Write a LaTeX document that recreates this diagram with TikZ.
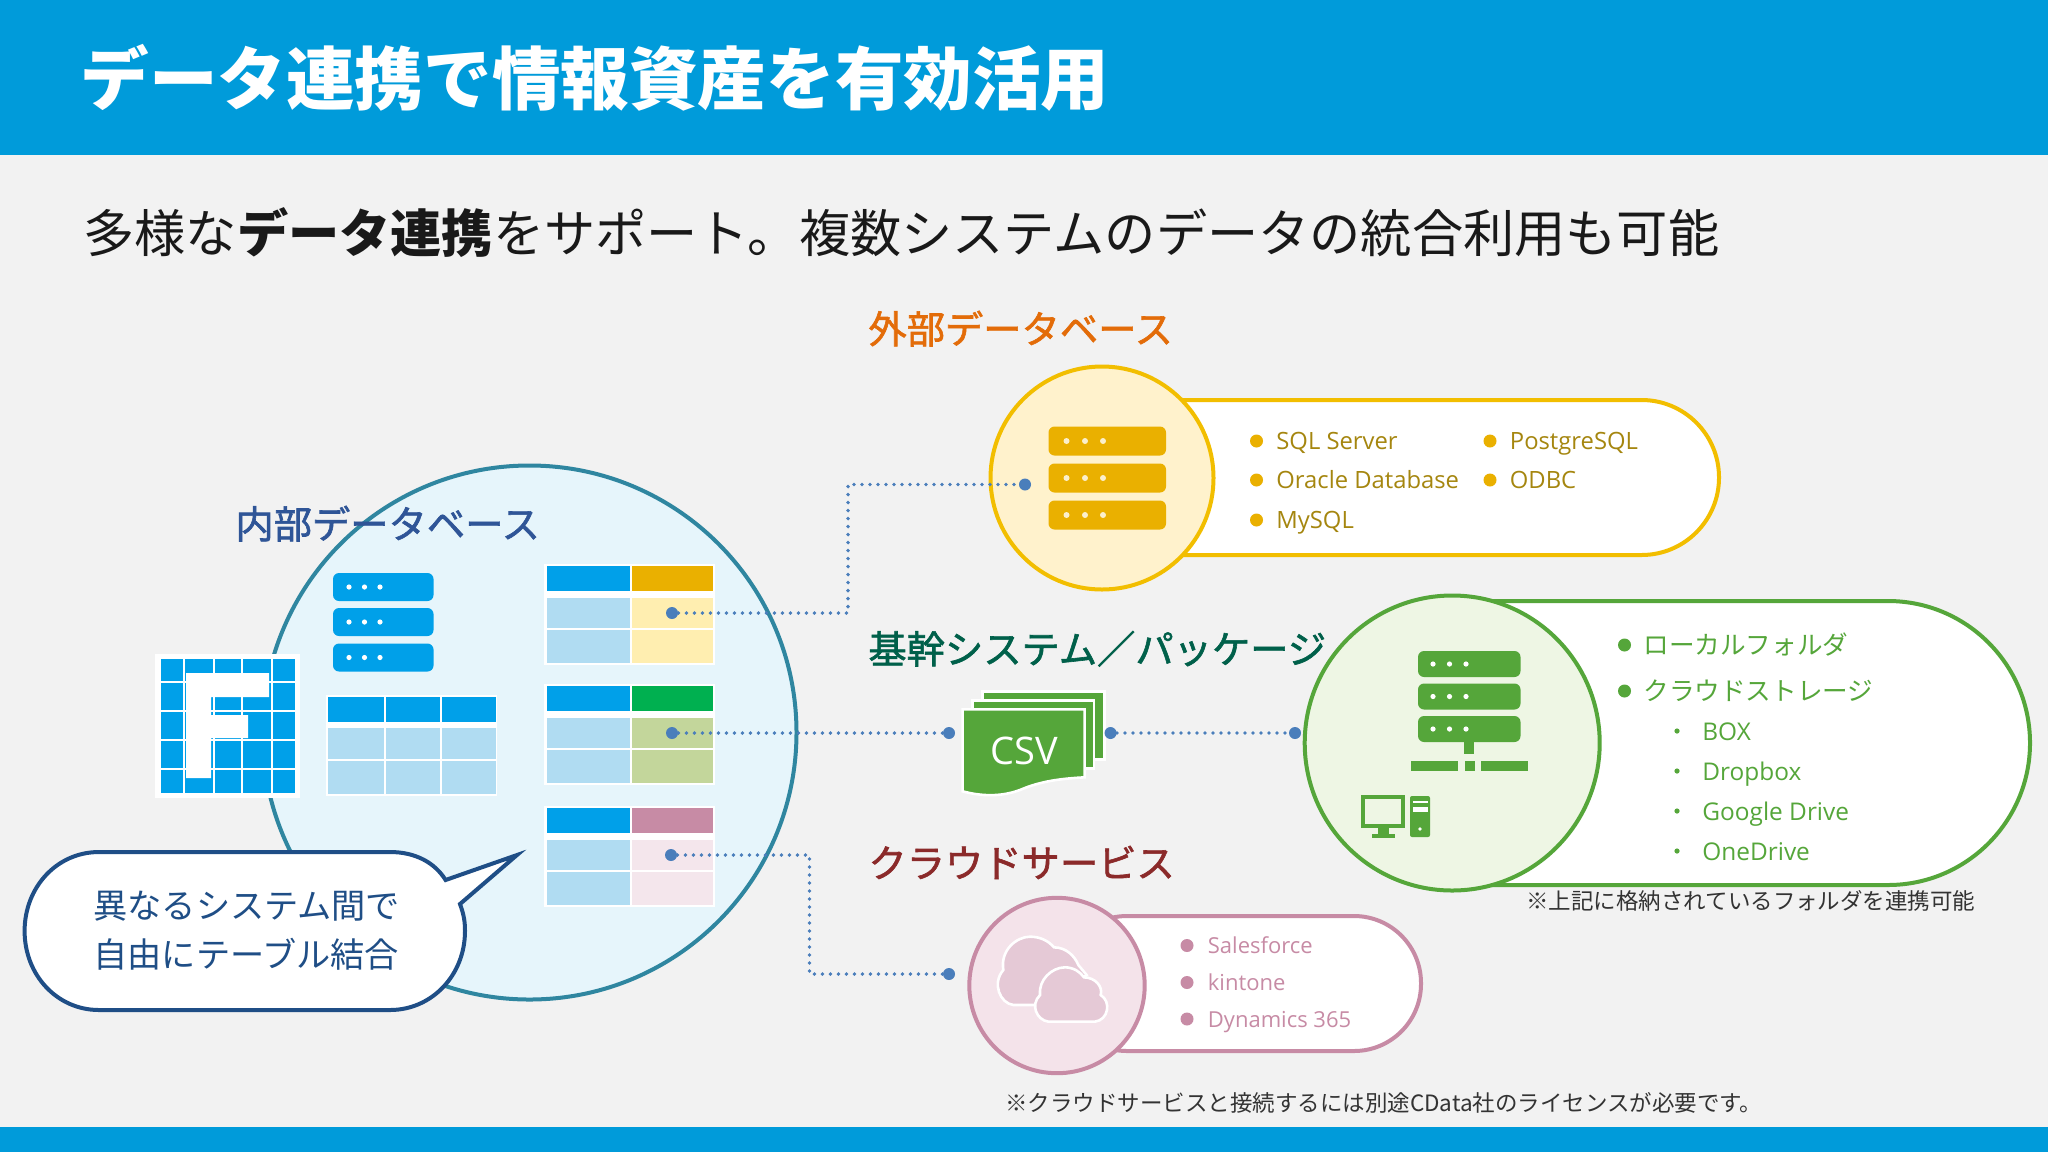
\documentclass[tikz,border=0pt]{standalone}
\usepackage{fontspec}
\setmainfont{Noto Sans CJK JP}
\newfontfamily\latinface{Open Sans}
\newfontfamily\mediumface[FakeBold=1.6]{Noto Sans CJK JP}
\definecolor{barblue}{HTML}{009BDA}
\definecolor{pagegrey}{HTML}{F2F2F2}
\definecolor{iconblue}{HTML}{00A0E9}
\definecolor{cellblue}{HTML}{B0DCF2}
\definecolor{innerfill}{HTML}{E6F5FB}
\definecolor{innerline}{HTML}{2F86A0}
\definecolor{innertext}{HTML}{2F5597}
\definecolor{calloutline}{HTML}{1F4E86}
\definecolor{linkblue}{HTML}{4A7EBB}
\definecolor{extline}{HTML}{F2BE00}
\definecolor{extfill}{HTML}{FFF2CC}
\definecolor{exticon}{HTML}{EAB000}
\definecolor{exttext}{HTML}{A5860F}
\definecolor{exthead}{HTML}{E36C09}
\definecolor{extcell}{HTML}{FFEEB0}
\definecolor{sysline}{HTML}{55A63A}
\definecolor{sysfill}{HTML}{EEF6E4}
\definecolor{syshead}{HTML}{00604A}
\definecolor{sysbar}{HTML}{00B050}
\definecolor{syscell}{HTML}{C3D69B}
\definecolor{cloudline}{HTML}{C78BA5}
\definecolor{cloudfill}{HTML}{F4E3EA}
\definecolor{cloudicon}{HTML}{E5C9D6}
\definecolor{cloudhead}{HTML}{8B2A2A}
\definecolor{cloudcell}{HTML}{F4E6EC}

\newcommand{\sized}[1]{\fontsize{#1}{#1}\selectfont}

\begin{document}
\begin{tikzpicture}[x=0.5pt,y=-0.5pt,
    lbl/.style={anchor=west,inner sep=0pt,execute at begin node={\rule[-0.25em]{0pt}{1.25em}}},
    sectlabel/.style={lbl,font=\mediumface\sized{19.15}},
    smallnote/.style={lbl,font=\sized{11.24},text=black!80},
    linkdot/.style={circle,fill=linkblue,inner sep=0pt,minimum size=6pt},
    link/.style={draw=linkblue,line width=1.9pt,line cap=round,dash pattern=on 0pt off 4pt},
    pill/.style={line width=2pt,fill=white},
    ball/.style={circle,inner sep=0pt,minimum size=6.5pt}]
    \useasboundingbox (0,0) rectangle (2048,1152);
    \fill[pagegrey] (0,0) rectangle (2048,1152);

    % bars
    \fill[barblue] (0,0) rectangle (2048,155);
    \fill[barblue] (0,1127) rectangle (2048,1152);
    \node[lbl,font=\sized{34.3}\bfseries,text=white] (title) at (80,79) {データ連携で情報資産を有効活用};
    \node[lbl,font=\sized{25.6},text=black!90] (subtitle) at (83,233) {多様な\textbf{データ連携}をサポート。複数システムのデータの統合利用も可能};

    % internal database
    \draw[innerline,fill=innerfill,line width=2pt] (529.5,732.5) circle (267);
    \node[lbl,font=\mediumface\sized{19.15},text=innertext] (innerlabel) at (235,524) {内部データベース};

    \foreach \ry in {573,608,643.5}{
        \fill[iconblue,rounded corners=3pt] (333,\ry) rectangle (433.5,\ry+28);
        \foreach \dx in {349,364.5,380}
            \fill[white] (\dx,\ry+14) circle (2.6);
    }

    % F icon
    \fill[white] (155,654) rectangle (300,798);
    \fill[iconblue] (161,659) rectangle (294.5,792.5);
    \foreach \gx in {184,213.5,242,271.5}
        \draw[white,line width=1pt] (\gx,659) -- (\gx,792.5);
    \foreach \gy in {682,711,740,769}
        \draw[white,line width=1pt] (161,\gy) -- (294.5,\gy);
    \fill[white] (186,673) -- (269,673) -- (269,697) -- (211,697) -- (211,715) -- (248,715) -- (248,738) -- (211,738) -- (211,778) -- (186,778) -- cycle;

    % middle table
    \fill[white] (326,695) rectangle (497,796);
    \foreach \cl/\cr in {328/383.5,385.5/439.5,441.5/495.5}{
        \fill[iconblue] (\cl,697) rectangle (\cr,722);
        \fill[cellblue] (\cl,728) rectangle (\cr,758.5);
        \fill[cellblue] (\cl,761) rectangle (\cr,793.5);
    }

    % tables on the right
    \foreach \ty/\barcol/\cellcol in {566/exticon/extcell,686/sysbar/syscell,808/cloudline/cloudcell}{
        \fill[white] (544,\ty-2) rectangle (715,\ty+99);
        \fill[iconblue] (546.5,\ty) rectangle (630,\ty+25);
        \fill[\barcol] (632,\ty) rectangle (713,\ty+25);
        \fill[cellblue] (546.5,\ty+31.5) rectangle (630,\ty+62);
        \fill[cellblue] (546.5,\ty+64) rectangle (630,\ty+97);
        \fill[\cellcol] (632,\ty+31.5) rectangle (713,\ty+62);
        \fill[\cellcol] (632,\ty+64) rectangle (713,\ty+97);
    }

    % callout
    \draw[calloutline,fill=white,line width=2pt] (99,852) -- (390,852) .. controls (416,852) and (435,863) .. (445.6,880) -- (517,855) -- (460,904) .. controls (464,915) and (465,922) .. (465,931) .. controls (465,975) and (432,1010) .. (390,1010) -- (99,1010) .. controls (57,1010) and (24.6,975) .. (24.6,931) .. controls (24.6,887) and (57,852) .. (99,852) -- cycle;
    \node[lbl,font=\sized{17.1},text=calloutline] (calloutone) at (93,906) {異なるシステム間で};
    \node[lbl,font=\sized{17.1},text=calloutline] (callouttwo) at (93,955) {自由にテーブル結合};

    % external database
    \node[sectlabel,text=exthead] (extlabel) at (868,329) {外部データベース};
    \draw[extline,pill,rounded corners=38.7pt] (1000,400) rectangle (1719,555);
    \draw[extline,fill=extfill,line width=2pt] (1102,478) circle (111.5);
    \foreach \ry in {426.5,463.5,500.5}{
        \fill[exticon,rounded corners=3pt] (1048.5,\ry) rectangle (1166,\ry+29);
        \foreach \dx in {1066.5,1085,1103}
            \fill[white!80!exticon] (\dx,\ry+14.5) circle (3);
    }
    \foreach \bx/\by/\bname/\btext in {1256.5/441/a/SQL Server,1256.5/480/b/Oracle Database,1256.5/520/c/MySQL,1490/441/d/PostgreSQL,1490/480/e/ODBC}{
        \node[ball,fill=exticon] (extball\bname) at (\bx,\by) {};
        \node[lbl,font=\latinface\sized{11.9},text=exttext] (exttext\bname) at (\bx+19.5,\by) {\btext};
    }

    % core systems
    \node[sectlabel,text=syshead] (syslabel) at (868,649) {基幹システム／パッケージ};
    \draw[sysline,pill,rounded corners=71pt] (1340,601) rectangle (2030,885);
    \draw[sysline,fill=sysfill,line width=2pt] (1452.2,743) circle (147.5);
    \foreach \ry in {651,683.5,716}{
        \fill[sysline,rounded corners=3pt] (1418,\ry) rectangle (1520.5,\ry+26);
        \foreach \dx in {1433,1449.5,1466}
            \fill[white] (\dx,\ry+13) circle (2.6);
    }
    \fill[sysline] (1464,742) rectangle (1474,754);
    \fill[sysline] (1411,761) rectangle (1457.5,771);
    \fill[sysline] (1464.5,761) rectangle (1474.5,771);
    \fill[sysline] (1480.5,761) rectangle (1528,771);
    % computer
    \draw[sysline,line width=2pt] (1362.5,797) rectangle (1402.5,826);
    \fill[sysline] (1378,827) rectangle (1389,834);
    \fill[sysline] (1372,834) rectangle (1395,838);
    \fill[sysline,rounded corners=1pt] (1410,796) rectangle (1430,837);
    \fill[white] (1412.5,801) rectangle (1427.5,803);
    \fill[white] (1412.5,807) rectangle (1427.5,812);
    \fill[white] (1420,829) circle (1.8);

    \foreach \by/\bname/\btext in {645/a/ローカルフォルダ,691/b/クラウドストレージ}{
        \node[ball,fill=sysline] (sysball\bname) at (1624.5,\by) {};
        \node[lbl,font=\sized{12.8},text=sysline] (systext\bname) at (1643,\by) {\btext};
    }
    \foreach \by/\bname/\btext in {731/c/BOX,771/d/Dropbox,811/e/Google Drive,851/f/OneDrive}{
        \node[circle,fill=sysline,inner sep=0pt,minimum size=2.6pt] (sysball\bname) at (1677,\by) {};
        \node[lbl,font=\latinface\sized{12.2},text=sysline] (systext\bname) at (1702,\by) {\btext};
    }
    \node[smallnote] (sysnote) at (1526,901) {※上記に格納されているフォルダを連携可能};

    % csv pages
    \begin{scope}[shift={(950,680)},scale=0.3333]
        \draw[white,fill=sysline,line width=1.3pt] (98,34) rectangle (464,239);
        \draw[white,fill=sysline,line width=1.3pt] (68,61) rectangle (432,266);
        \draw[white,fill=sysline,line width=1.3pt] (38,88) -- (404,88) -- (404,292) .. controls (330,296) and (270,304) .. (210,330) .. controls (150,352) and (90,348) .. (38,334) -- cycle;
    \end{scope}
    \node[font=\latinface\sized{19},text=white,inner sep=0pt] (csvtext) at (1024,751) {CSV};

    % cloud services
    \node[sectlabel,text=cloudhead] (cloudlabel) at (868,863) {クラウドサービス};
    \draw[cloudline,pill,rounded corners=33.5pt] (1060,916) rectangle (1421,1051);
    \draw[cloudline,fill=cloudfill,line width=2pt] (1057,985.5) circle (87.7);
    \begin{scope}[shift={(980,920)},scale=0.3333]
        \draw[white,fill=cloudicon,line width=1.3pt] (100,255) .. controls (60,250) and (35,190) .. (70,150) .. controls (60,90) and (110,50) .. (150,50) .. controls (180,50) and (205,62) .. (222,82) .. controls (260,82) and (285,110) .. (295,135) -- (320,165) -- (200,255) -- cycle;
        \draw[white,fill=cloudicon,line width=1.3pt] (205,305) .. controls (170,300) and (150,255) .. (180,225) .. controls (175,180) and (215,142) .. (255,142) .. controls (280,142) and (300,155) .. (312,172) .. controls (345,172) and (370,200) .. (362,225) .. controls (395,245) and (385,300) .. (345,305) -- cycle;
    \end{scope}
    \foreach \by/\bname/\btext in {945.5/a/Salesforce,982.5/b/kintone,1019/c/Dynamics 365}{
        \node[ball,fill=cloudline] (cloudball\bname) at (1187,\by) {};
        \node[lbl,font=\latinface\sized{11},text=cloudline] (cloudtext\bname) at (1207.5,\by) {\btext};
    }
    \node[smallnote] (cloudnote) at (1005,1103) {※クラウドサービスと接続するには別途CData社のライセンスが必要です。};

    % links
    \node[linkdot] (tabext) at (672,613) {};
    \node[linkdot] (tabsys) at (672,733) {};
    \node[linkdot] (tabcloud) at (671,855) {};
    \node[linkdot] (extdot) at (1025,484.5) {};
    \node[linkdot] (csvin) at (949,733) {};
    \node[linkdot] (csvout) at (1110.5,733) {};
    \node[linkdot] (sysdot) at (1295,733) {};
    \node[linkdot] (clouddot) at (949,974) {};
    \coordinate (kneeext) at (848,484.5);
    \coordinate (kneecloud) at (809.5,974);
    \draw[link] (tabext) -| (kneeext) -- (extdot);
    \draw[link] (tabsys) -- (csvin);
    \draw[link] (csvout) -- (sysdot);
    \draw[link] (tabcloud) -| (kneecloud) -- (clouddot);
\end{tikzpicture}
\end{document}
